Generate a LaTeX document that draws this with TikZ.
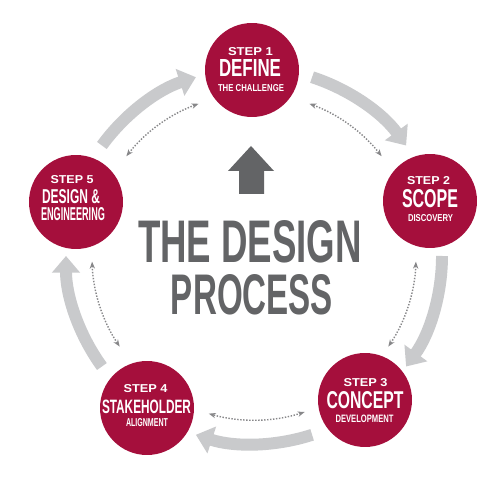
\documentclass[tikz,border=0pt]{standalone}
\usepackage{fontspec}
\setmainfont{Liberation Sans}
\usepackage{graphicx}
\usetikzlibrary{arrows.meta,calc}
\definecolor{crimson}{RGB}{165,15,60}
\definecolor{ringgray}{RGB}{201,202,204}
\definecolor{dotgray}{RGB}{135,135,137}
\definecolor{titlegray}{RGB}{99,100,102}
\newlength\pxl
\setlength\pxl{0.02cm}
\newcommand\fitt[3]{\resizebox{#1\pxl}{#2\pxl}{\bfseries #3}}
\begin{document}
\begin{tikzpicture}[x=0.02cm,y=0.02cm,
  stepcircle/.style={circle,fill=crimson,minimum size=1.88cm,inner sep=0pt},
  wtext/.style={text=white,inner sep=0pt,anchor=center},
  ttext/.style={text=titlegray,inner sep=0pt,anchor=center},
  bigarrow/.style={line width=6.8pt,draw=ringgray,-{Triangle[width=15.5pt,length=9.5pt]}},
  dotarrow/.style={draw=dotgray,line width=0.8pt,dash pattern=on 0.8pt off 0.9pt,{Stealth[length=4pt,width=3pt]}-{Stealth[length=4pt,width=3pt]}}
]
\fill[white] (0,0) rectangle (500,500);
\useasboundingbox (0,0) rectangle (500,500);

\coordinate (ctr) at (254,244);

% outer flow arrows
\draw[bigarrow] ([shift={(72:188)}]ctr) arc[start angle=72,end angle=36,radius=188];
\draw[bigarrow] ([shift={(0:188)}]ctr) arc[start angle=0,end angle=-36,radius=188];
\draw[bigarrow] ([shift={(-72:188)}]ctr) arc[start angle=-72,end angle=-108,radius=188];
\draw[bigarrow] ([shift={(-144:188)}]ctr) arc[start angle=-144,end angle=-180,radius=188];
\draw[bigarrow] ([shift={(144:188)}]ctr) arc[start angle=144,end angle=108,radius=188];

% inner dotted feedback arrows
\draw[dotarrow] ([shift={(70:162)}]ctr) arc[start angle=70,end angle=38,radius=162];
\draw[dotarrow] ([shift={(-2:162)}]ctr) arc[start angle=-2,end angle=-34,radius=162];
\draw[dotarrow] ([shift={(-72:164)}]ctr) arc[start angle=-72,end angle=-106,radius=164];
\draw[dotarrow] ([shift={(-146:162)}]ctr) arc[start angle=-146,end angle=-178,radius=162];
\draw[dotarrow] ([shift={(142:162)}]ctr) arc[start angle=142,end angle=110,radius=162];

% step circles
\node[stepcircle] (s1) at (252,430) {};
\node[stepcircle] (s2) at (430,299) {};
\node[stepcircle] (s3) at (365,100) {};
\node[stepcircle] (s4) at (147,92) {};
\node[stepcircle] (s5) at (76,298) {};

% step texts
\node[wtext] (t1a) at (250.5,448) {\fitt{45}{8}{STEP 1}};
\node[wtext] (t1b) at (250,431.5) {\fitt{62}{17}{DEFINE}};
\node[wtext] (t1c) at (251,411.5) {\fitt{66}{7}{THE CHALLENGE}};

\node[wtext] (t2a) at (428.5,319) {\fitt{43}{8}{STEP 2}};
\node[wtext] (t2b) at (430,301) {\fitt{56}{18}{SCOPE}};
\node[wtext] (t2c) at (430.5,281.5) {\fitt{45}{7}{DISCOVERY}};

\node[wtext] (t3a) at (365.5,117.5) {\fitt{44}{8}{STEP 3}};
\node[wtext] (t3b) at (365,99.5) {\fitt{77}{17}{CONCEPT}};
\node[wtext] (t3c) at (364.5,81.5) {\fitt{58}{7.5}{DEVELOPMENT}};

\node[wtext] (t4a) at (145.5,111) {\fitt{44}{8}{STEP 4}};
\node[wtext] (t4b) at (146.5,93.5) {\fitt{89}{13.5}{STAKEHOLDER}};
\node[wtext] (t4c) at (147,77) {\fitt{42}{8}{ALIGNMENT}};

\node[wtext] (t5a) at (72,320) {\fitt{43}{8}{STEP 5}};
\node[wtext] (t5b) at (71,303) {\fitt{58}{14}{DESIGN \&}};
\node[wtext] (t5c) at (73,285.5) {\fitt{64}{13}{ENGINEERING}};

% central arrow and title
\fill[titlegray] (251,354) -- (274,329) -- (264,329) -- (264,306) -- (239,306) -- (239,329) -- (228,329) -- cycle;
\node[ttext] (title1) at (250,258) {\fitt{224}{42}{THE DESIGN}};
\node[ttext] (title2) at (252,205) {\fitt{162}{40}{PROCESS}};
\end{tikzpicture}
\end{document}
